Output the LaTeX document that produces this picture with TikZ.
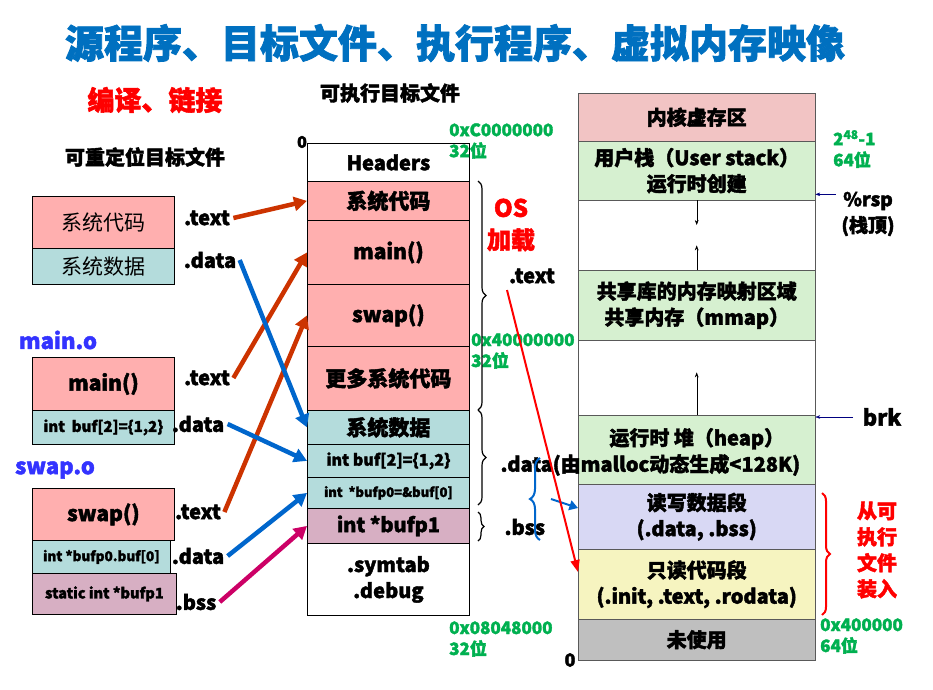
\documentclass[tikz,border=0pt]{standalone}
\usepackage{fontspec}
\setmainfont{Noto Sans CJK SC}[BoldFeatures={FakeBold=2}]
\usetikzlibrary{arrows.meta,decorations.pathreplacing}
\definecolor{seg}{HTML}{FFAFAF}
\definecolor{dat}{HTML}{B4DCDC}
\definecolor{bss}{HTML}{D7AFC3}
\definecolor{kern}{HTML}{F2C4C4}
\definecolor{grn}{HTML}{D6F0D0}
\definecolor{lav}{HTML}{D8D8F4}
\definecolor{yel}{HTML}{F6F4C0}
\definecolor{addr}{HTML}{00B050}
\definecolor{ttl}{HTML}{0070C0}
\definecolor{ora}{HTML}{CC3300}
\definecolor{blu}{HTML}{0066CC}
\definecolor{mag}{HTML}{CC0066}
\newcommand\fs[1]{\fontsize{#1}{#1}\selectfont}
\tikzset{
  box/.style={draw, thick, minimum width=#1, inner sep=0pt, font=\bfseries},
  lbl/.style={font=\bfseries\fs{20}},
  adr/.style={text=addr, font=\bfseries\fontsize{17}{21}\selectfont, align=left, anchor=west, inner sep=1pt},
  ar/.style={-{Triangle[length=13pt,width=14pt]}, line width=4.5pt}
}
\begin{document}
\begin{tikzpicture}[x=1pt,y=-1pt]
\useasboundingbox (0,0) rectangle (933,689);
\node[text=ttl, font=\bfseries\fs{39}] at (455,43) {源程序、目标文件、执行程序、虚拟内存映像};
\node[text=red, font=\bfseries\fs{27}] at (155,100) {编译、链接};
\node[font=\bfseries\fs{20}] at (390,93) {可执行目标文件};
\node[font=\bfseries\fs{20}] at (145,157) {可重定位目标文件};
\node[text=blue!80!white, font=\bfseries\fs{22}] at (58,340) {main.o};
\node[text=blue!80!white, font=\bfseries\fs{22}] at (55,470) {swap.o};

% relocatable files
\node[box=142pt, minimum height=52pt, fill=seg, anchor=north west, font=\fs{21}] (sc) at (32,196) {系统代码};
\node[box=142pt, minimum height=36pt, fill=dat, anchor=north west, font=\fs{21}] (sd) at (32,248) {系统数据};
\node[box=142pt, minimum height=53pt, fill=seg, anchor=north west, font=\bfseries\fs{21}] (mm) at (32,357) {main()};
\node[box=142pt, minimum height=34pt, fill=dat, anchor=north west, font=\bfseries\fs{15}] (mb) at (32,410) {int~ buf[2]=\{1,2\}};
\node[box=142pt, minimum height=52pt, fill=seg, anchor=north west, font=\bfseries\fs{21}] (sw) at (32,488) {swap()};
\node[box=138pt, minimum height=33pt, fill=dat, anchor=north west, font=\bfseries\fs{13.5}] (sb0) at (32,540) {int *bufp0.buf[0]};
\node[box=144pt, minimum height=41pt, fill=bss, anchor=north west, font=\bfseries\fs{14.5}] (sb1) at (32,573) {static int *bufp1};
\node[lbl] (t1) at (207,218) {.text};
\node[lbl] (d1) at (210,260) {.data};
\node[lbl] (t2) at (207,378) {.text};
\node[lbl] (d2) at (198,424) {.data};
\node[lbl] (t3) at (198,512) {.text};
\node[lbl] (d3) at (198,556) {.data};
\node[lbl] (b3) at (196,602) {.bss};

% executable file
\node[font=\bfseries\fs{16}] at (302,142) {0};
\foreach \n/\t/\b/\c/\s/\txt in {
  hd/143/181/white/20/Headers, esc/181/220/seg/21/系统代码, emn/220/284/seg/21/main(),
  esw/284/346/seg/21/swap(), emo/346/410/seg/21/更多系统代码, esd/410/444/dat/21/系统数据,
  ebf/444/477/dat/16/{int buf[2]=\{1,2\}}, eb0/477/508/dat/13/{int~ *bufp0=\&buf[0]},
  eb1/508/543/bss/20/{int *bufp1}}
  \node[box=162pt, minimum height=\b pt-\t pt, fill=\c, anchor=north west, font=\bfseries\fs{\s}] (\n) at (307,\t) {\txt};
\node[box=162pt, minimum height=72pt, anchor=north west, align=center, font=\bfseries\fontsize{20}{26}\selectfont] (esy) at (307,543) {.symtab\\.debug};

% virtual memory
\foreach \n/\t/\b/\c/\txt in {
  vk/93/141/kern/内核虚存区, vs/141/200/grn/{用户栈（User stack）\\运行时创建}, vw1/200/270/white/{},
  vl/270/340/grn/{共享库的内存映射区域\\共享内存（mmap）}, vw2/340/415/white/{},
  vh/415/484/grn/{运行时 堆（heap）\\ \mbox{}}, vrw/484/549/lav/{读写数据段\\(.data, .bss)},
  vro/549/619/yel/{只读代码段\\(.init, .text, .rodata)}, vu/619/660/gray!50/未使用}
  \node[draw, gray!70!black, text=black, fill=\c, minimum width=237pt, minimum height=\b pt-\t pt, inner sep=0pt, anchor=north west, align=center, font=\bfseries\fontsize{20}{26}\selectfont] (\n) at (578,\t) {\txt};
\draw[-{Stealth[length=5pt]}, thin] (vw1.north) -- ++(0,25);
\draw[-{Stealth[length=5pt]}, thin] (vw1.south) -- ++(0,-25);
\draw[-{Stealth[length=5pt]}, thin] (vw2.south) -- ++(0,-43);
\node[font=\bfseries\fs{18}] at (570,660) {0};

% addresses
\node[adr] at (448,141) {0xC0000000\\32位};
\node[adr] at (470,351) {0x40000000\\32位};
\node[adr] at (448,639) {0x08048000\\32位};
\node[adr] at (832,149) {2\textsuperscript{48}-1\\64位};
\node[adr] at (819,636) {0x400000\\64位};
\node[font=\bfseries\fontsize{19}{26}\selectfont, align=center] (rsp) at (868,214) {\%rsp\\(栈顶)};
\node[font=\bfseries\fs{22}] (brk) at (882,417) {brk};
\draw[-{Stealth}, blue!50!black] (rsp.north west) ++(-2,6) coordinate (r0) -- (r0 -| vs.east);
\draw[-{Stealth}, blue!50!black] (brk.west) ++(-6,0) coordinate (k0) -- (k0 -| vh.east);

% braces
\draw[decorate, decoration={brace, amplitude=8pt}, line width=1.2pt] (478,181) -- (478,410);
\draw[decorate, decoration={brace, amplitude=8pt}, line width=1.2pt] (478,410) -- (478,505);
\draw[decorate, decoration={brace, amplitude=6pt}, line width=1.2pt] (478,512) -- (478,541);
\node[lbl] (tx) at (532,276) {.text};
\node[lbl, anchor=west] (dx) at (497,465) {.data(由malloc动态生成<128K)};
\node[lbl, anchor=west] (bx) at (501,527) {.bss};
\node[text=red, font=\bfseries\fontsize{24}{32}\selectfont, align=center] (os) at (511,225) {OS\\加载};
\draw[decorate, decoration={brace, amplitude=10pt, mirror}, line width=2pt, blu] (540,458) -- (540,540);
\draw[-{Triangle}, line width=2pt, blu] (551,499) -- (vrw.west |- 0,508);
\draw[decorate, decoration={brace, amplitude=8pt}, line width=2pt, red] (822,493) -- (822,615);
\node[text=red, font=\bfseries\fontsize{20}{26}\selectfont, align=center] at (877,550) {从可\\执行\\文件\\装入};
\draw[-{Triangle[length=12pt,width=9pt]}, line width=2pt, red] (507,290) -- (vro.west |- 0,572);

% linking arrows
\draw[ar, ora] (t1.east) -- (esc.west);
\draw[ar, ora] (t2.east) -- (emn.west);
\draw[ar, ora] (t3.east) -- (esw.west);
\draw[ar, blu] (d1.east) -- (esd.west);
\draw[ar, blu] (d2.east) -- (ebf.west);
\draw[ar, blu] (d3.east) -- (eb0.west);
\draw[ar, mag] (b3.east) -- (eb1.west);
\end{tikzpicture}
\end{document}
